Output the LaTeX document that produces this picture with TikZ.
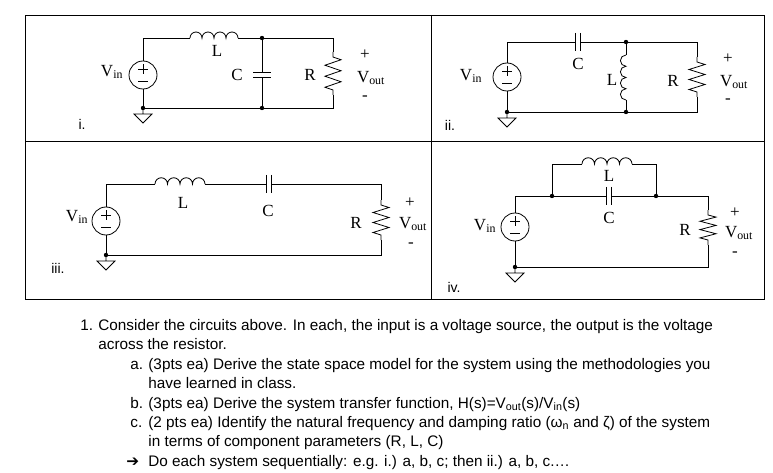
\documentclass[tikz,border=0pt]{standalone}
\usepackage{fontspec}
\setmainfont{Liberation Sans}
\newfontfamily\circfont{Liberation Serif}
\newfontfamily\dvs{DejaVu Sans}
\newcommand\indH[3]{\pgfmathsetmacro\rr{(#2-#1)/8}\draw (#1,#3) arc[start angle=180,end angle=360,radius=\rr] arc[start angle=180,end angle=360,radius=\rr] arc[start angle=180,end angle=360,radius=\rr] arc[start angle=180,end angle=360,radius=\rr];}
\newcommand\indV[3]{\pgfmathsetmacro\rr{(#3-#2)/8}\draw (#1,#2) arc[start angle=270,end angle=90,radius=\rr] arc[start angle=270,end angle=90,radius=\rr] arc[start angle=270,end angle=90,radius=\rr] arc[start angle=270,end angle=90,radius=\rr];}
\newcommand\resV[3]{\pgfmathsetmacro\hh{(#3-#2-10)/6}\draw (#1,#2) -- ++(0,5) -- ++(8,\hh/2) -- ++(-16,\hh) -- ++(16,\hh) -- ++(-16,\hh) -- ++(16,\hh) -- ++(-16,\hh) -- ++(8,\hh/2) -- (#1,#3);}
\newcommand\capOnV[2]{\draw (#1-9,#2-2.5) -- (#1+9,#2-2.5) (#1-9,#2+2.5) -- (#1+9,#2+2.5);}
\newcommand\capOnH[2]{\draw (#1-2.5,#2-9) -- (#1-2.5,#2+9) (#1+2.5,#2-9) -- (#1+2.5,#2+9);}
\newcommand\srcV[2]{\draw (#1,#2) circle[radius=14]; \draw (#1-5,#2-6) -- (#1+5,#2-6) (#1,#2-11) -- (#1,#2-1) (#1-5,#2+6) -- (#1+5,#2+6);}
\newcommand\gndAt[2]{\fill (#1,#2) circle[radius=2.2]; \draw (#1,#2) -- (#1,#2+6) (#1-9,#2+6) -- (#1+9,#2+6) -- (#1,#2+15) -- cycle;}
\newcommand\dotAt[2]{\fill (#1,#2) circle[radius=2.2];}
\newcommand\Vin{V\textsubscript{in}}
\newcommand\Vout{V\textsubscript{out}}
\tikzset{clab/.style={font=\circfont\fontsize{17}{17}\selectfont, inner sep=0pt},
 tlab/.style={font=\fontsize{15.3}{15.3}\selectfont, anchor=base west, inner sep=0pt},
 num/.style={font=\fontsize{14}{14}\selectfont}}
\begin{document}
\begin{tikzpicture}[x=1pt,y=-1pt, line width=0.8pt]
\useasboundingbox (0,0) rectangle (773,473);
\draw (25,15) rectangle (764,299) (431,15) -- (431,299) (25,141) -- (764,141);
% circuit i
\srcV{143}{75}
\draw (143,61) -- (143,38) -- (190,38);
\indH{190}{238}{38}
\draw (238,38) -- (333,38) -- (333,52);
\resV{333}{52}{95}
\draw (333,95) -- (333,108) -- (143,108) -- (143,89);
\draw (262,38) -- (262,72.5) (262,77.5) -- (262,108);
\capOnV{262}{75}
\dotAt{262}{38}\dotAt{262}{108}\gndAt{143}{108}
\node[clab] at (112,72) {\Vin}; \node[clab] at (217,51) {L}; \node[clab] at (237,75) {C};
\node[clab] at (310,75) {R}; \node[clab] at (365,55) {+}; \node[clab] at (371,78) {\Vout}; \node[clab] at (365,98) {-};
\node[num] at (82,124) {i.};
% circuit ii
\srcV{507}{77}
\draw (507,63) -- (507,42) -- (575.5,42) (580.5,42) -- (697,42) -- (697,57);
\capOnH{578}{42}
\draw (626,42) -- (626,55) (626,100) -- (626,112);
\indV{626}{55}{100}
\resV{697}{57}{97}
\draw (697,97) -- (697,112) -- (507,112) -- (507,91);
\dotAt{626}{42}\dotAt{626}{112}\gndAt{507}{112}
\node[clab] at (471,76) {\Vin}; \node[clab] at (578,64) {C}; \node[clab] at (612,80) {L};
\node[clab] at (673,81) {R}; \node[clab] at (728,59) {+}; \node[clab] at (734,82) {\Vout}; \node[clab] at (728,101) {-};
\node[num] at (450,125) {ii.};
% circuit iii
\srcV{106}{221}
\draw (106,207) -- (106,184) -- (155,184);
\indH{155}{205}{184}
\draw (205,184) -- (266.5,184) (271.5,184) -- (381,184) -- (381,200);
\capOnH{269}{184}
\resV{381}{200}{240}
\draw (381,240) -- (381,255) -- (106,255) -- (106,235);
\gndAt{106}{255}
\node[clab] at (77,217) {\Vin}; \node[clab] at (183,203) {L}; \node[clab] at (268,211) {C};
\node[clab] at (356,223) {R}; \node[clab] at (410,203) {+}; \node[clab] at (413,224) {\Vout}; \node[clab] at (411,245) {-};
\node[num] at (58,268) {iii.};
% circuit iv
\srcV{515}{227}
\draw (515,213) -- (515,196) -- (606.5,196) (611.5,196) -- (708,196) -- (708,210);
\capOnH{609}{196}
\draw (552,196) -- (552,164) -- (582,164) (632,164) -- (656,164) -- (656,196);
\indH{582}{632}{164}
\resV{708}{210}{245}
\draw (708,245) -- (708,267) -- (515,267) -- (515,241);
\dotAt{552}{196}\dotAt{656}{196}\gndAt{515}{267}
\node[clab] at (485,226) {\Vin}; \node[clab] at (609,176) {L}; \node[clab] at (609,218) {C};
\node[clab] at (685,230) {R}; \node[clab] at (735,213) {+}; \node[clab] at (739,233) {\Vout}; \node[clab] at (735,254) {-};
\node[num] at (454,287) {iv.};
% text
\node[tlab] at (80,330) {1.};
\node[tlab] at (98,330) {Consider the circuits above. In each, the input is a voltage source, the output is the voltage};
\node[tlab] at (98,349) {across the resistor.};
\node[tlab] at (130,369) {a.};
\node[tlab] at (148,369) {(3pts ea) Derive the state space model for the system using the methodologies you};
\node[tlab] at (148,388) {have learned in class.};
\node[tlab] at (130,408) {b.};
\node[tlab] at (148,408) {(3pts ea) Derive the system transfer function, H(s)=V\textsubscript{out}(s)/V\textsubscript{in}(s)};
\node[tlab] at (130,427) {c.};
\node[tlab] at (148,427) {(2 pts ea) Identify the natural frequency and damping ratio (ω\textsubscript{n} and ζ) of the system};
\node[tlab] at (148,446) {in terms of component parameters (R, L, C)};
\node[tlab] at (126,466) {\dvs ➔};
\node[tlab] at (148,466) {Do each system sequentially: e.g. i.) a, b, c; then ii.) a, b, c.…};
\end{tikzpicture}
\end{document}
